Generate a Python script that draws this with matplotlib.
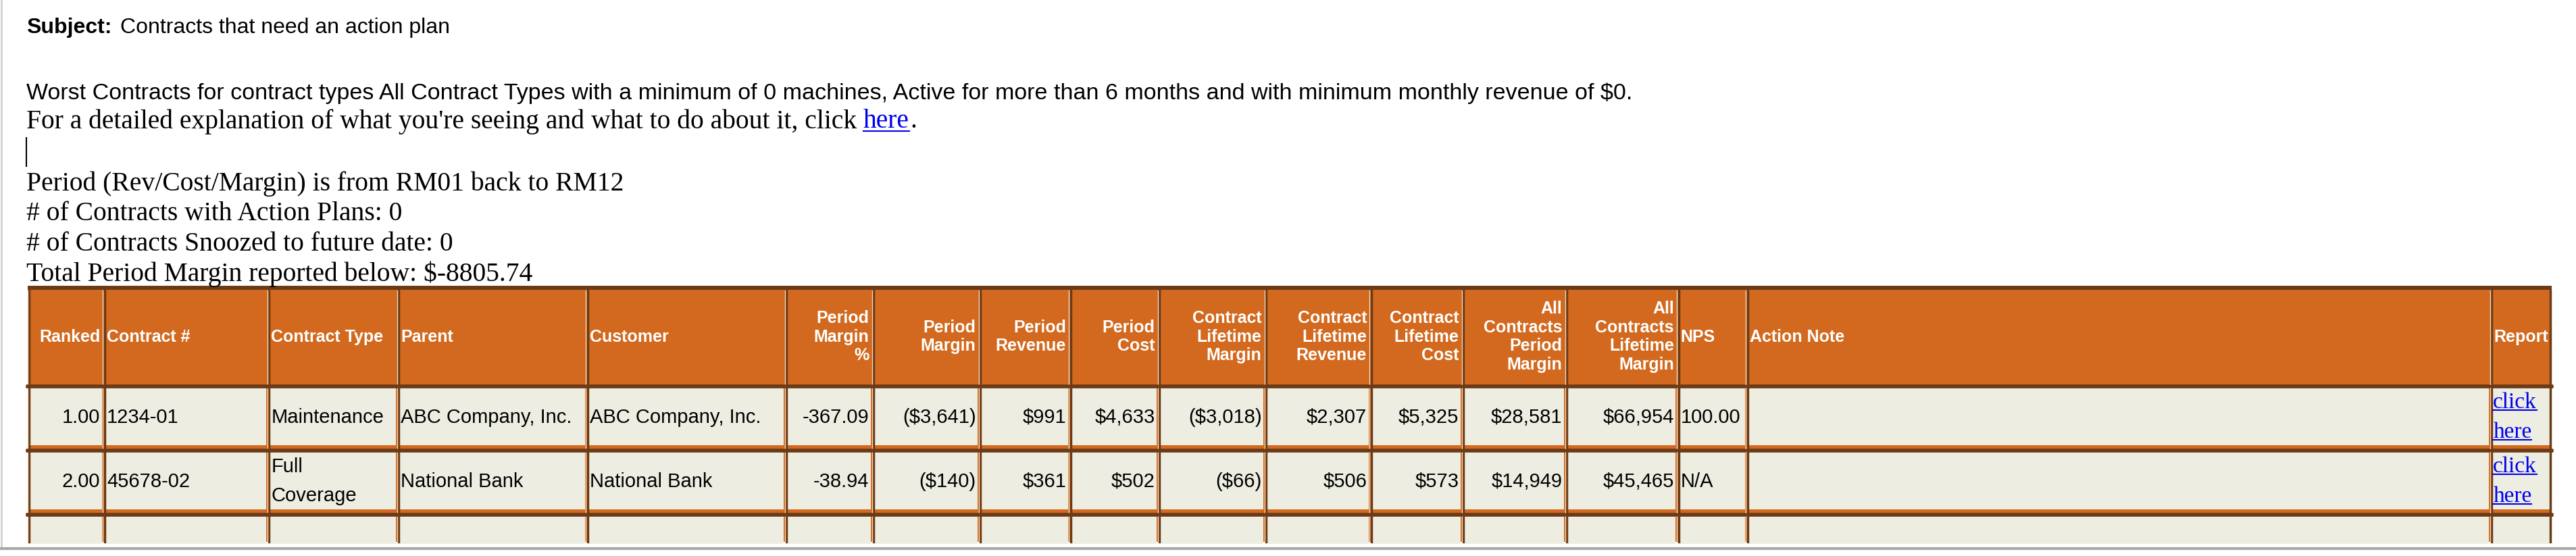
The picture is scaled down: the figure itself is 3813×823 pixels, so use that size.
import matplotlib.pyplot as plt
from matplotlib.patches import Rectangle

# data
headers = ["Ranked", "Contract #", "Contract Type", "Parent", "Customer",
           "Period\nMargin\n%", "Period\nMargin", "Period\nRevenue", "Period\nCost",
           "Contract\nLifetime\nMargin", "Contract\nLifetime\nRevenue", "Contract\nLifetime\nCost",
           "All\nContracts\nPeriod\nMargin", "All\nContracts\nLifetime\nMargin",
           "NPS", "Action Note", "Report"]
row1 = ["1.00", "1234-01", "Maintenance", "ABC Company, Inc.", "ABC Company, Inc.",
        "-367.09", "($3,641)", "$991", "$4,633", "($3,018)", "$2,307", "$5,325",
        "$28,581", "$66,954", "100.00", "", "click\nhere"]
row2 = ["2.00", "45678-02", "Full\nCoverage", "National Bank", "National Bank",
        "-38.94", "($140)", "$361", "$502", "($66)", "$506", "$573",
        "$14,949", "$45,465", "N/A", "", "click\nhere"]
rows = [row1, row2, [""] * 17]
intro = ["Worst Contracts for contract types All Contract Types with a minimum of 0 machines, "
         "Active for more than 6 months and with minimum monthly revenue of $0.",
         "For a detailed explanation of what you're seeing and what to do about it, click "]
summary = ["Period (Rev/Cost/Margin) is from RM01 back to RM12",
           "# of Contracts with Action Plans: 0",
           "# of Contracts Snoozed to future date: 0",
           "Total Period Margin reported below: $-8805.74"]

# layout (display coords of a 1568 px wide view, scaled up)
S = 3813 / 1568
edges = [17, 63, 163, 242, 357, 478, 531, 596, 651, 705, 770, 834, 890, 953, 1021, 1063, 1516, 1553]
right_cols = {0, 5, 6, 7, 8, 9, 10, 11, 12, 13}
row_edges = [234, 273, 312, 352]

ORANGE = "#D2691E"
DARK = "#6B3A17"
CELL = "#EDEEE1"
SANS = "Liberation Sans"
SERIF = "Liberation Serif"

fig = plt.figure(figsize=(38.13, 8.23), dpi=100)
ax = fig.add_axes([0, 0, 1, 1])
ax.set_xlim(0, 3813)
ax.set_ylim(823, 0)
ax.axis("off")


def p(v):
    return v * S


def underline(txt, color):
    bb = txt.get_window_extent().transformed(ax.transData.inverted())
    y = max(bb.y0, bb.y1) - 4
    ax.plot([bb.x0, bb.x1], [y, y], color=color, lw=1.5, zorder=4)
    return bb


ax.text(p(16), p(17), "Subject:", fontfamily=SANS, fontweight="bold", fontsize=23, va="center")
ax.text(p(73), p(17), "Contracts that need an action plan", fontfamily=SANS, fontsize=23, va="center")
ax.text(p(16), p(57), intro[0], fontfamily=SANS, fontsize=24.5, va="center")
t = ax.text(p(16), p(74), intro[1], fontfamily=SERIF, fontsize=28.5, va="center")
ax.plot([p(16), p(16)], [p(84), p(101)], color="black", lw=1.5)
for i, line in enumerate(summary):
    ax.text(p(16), p(112 + 18.3 * i), line, fontfamily=SERIF, fontsize=28.5, va="center")

# table background
ax.add_patch(Rectangle((p(edges[0]), p(174)), p(edges[-1] - edges[0]), p(330 - 174),
                       facecolor=ORANGE, edgecolor="none"))
ax.add_patch(Rectangle((p(edges[0]), p(174)), p(edges[-1] - edges[0]), p(2.5),
                       facecolor=DARK, edgecolor="none", zorder=2))

links = []
for j in range(len(headers)):
    x0, x1 = edges[j], edges[j + 1]
    ax.plot([p(x0 + 0.8)] * 2, [p(177), p(330)], color=DARK, lw=2.5, zorder=3)
    ax.plot([p(x0 - 0.3)] * 2, [p(177), p(330)], color="#F5D9B8", lw=1, zorder=3)
    ha = "right" if j in right_cols else "left"
    tx = p(x1 - 2) if ha == "right" else p(x0 + 2)
    ax.text(tx, p(205), headers[j], fontfamily=SANS, fontweight="bold", fontsize=18,
            color="white", ha=ha, va="center", linespacing=1.2, zorder=4)
    for r, row in enumerate(rows):
        y0 = row_edges[r] + 2
        y1 = min(row_edges[r + 1] - 2, 331)
        ax.add_patch(Rectangle((p(x0 + 1.5), p(y0)), p(x1 - x0 - 2.5), p(y1 - y0),
                               facecolor=CELL, edgecolor="none", zorder=2))
        txt = row[j]
        if not txt:
            continue
        cy = p((row_edges[r] + row_edges[r + 1]) / 2 + 0.5)
        if j == 16:
            for k, word in enumerate(txt.split("\n")):
                w = ax.text(p(x0 + 1.5), cy + p(-9 + 18 * k), word, fontfamily=SERIF, fontsize=24,
                            color="#0000EE", ha="left", va="center", zorder=4)
                links.append(w)
            continue
        ax.text(tx, cy, txt, fontfamily=SANS, fontsize=21, color="black", ha=ha, va="center",
                linespacing=1.7, zorder=4)
    for r in range(3):
        ax.plot([p(edges[0]), p(edges[-1])], [p(row_edges[r] + 1.3)] * 2, color=DARK, lw=3, zorder=3)
ax.plot([p(edges[-1] - 0.8)] * 2, [p(177), p(330)], color=DARK, lw=2.5, zorder=3)

# page frame
ax.plot([p(1), p(1)], [0, p(333)], color="#D0D0D0", lw=2)
ax.plot([p(1), p(1567)], [p(334)] * 2, color="#A8A8A8", lw=3)
ax.add_patch(Rectangle((0, p(335)), 3813, 823 - p(335), facecolor="white", edgecolor="none", zorder=5))

# link "here" after the explanation line
fig.canvas.draw()
for w in links:
    underline(w, "#0000EE")
bb = t.get_window_extent().transformed(ax.transData.inverted())
h = ax.text(bb.x1, p(74), "here", fontfamily=SERIF, fontsize=28.5, color="#0000EE", va="center")
fig.canvas.draw()
hb = underline(h, "#0000EE")
ax.text(hb.x1 + 1, p(74), ".", fontfamily=SERIF, fontsize=28.5, va="center")

fig.savefig("out.png", dpi=100)
